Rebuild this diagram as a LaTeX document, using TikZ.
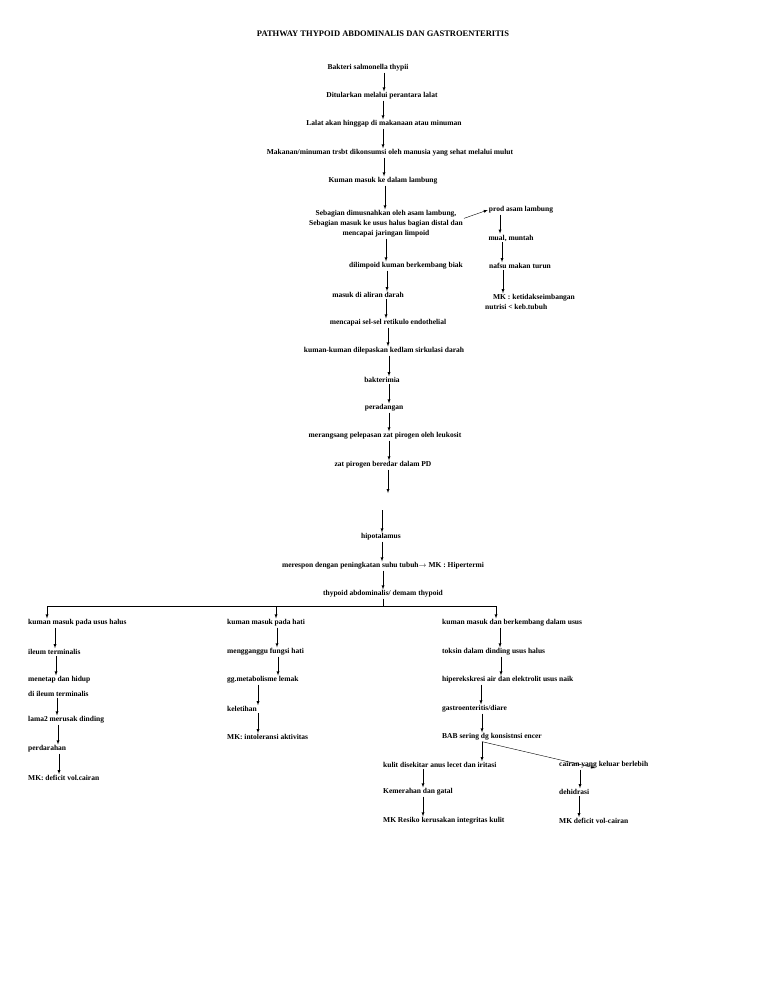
\documentclass[tikz,border=0pt]{standalone}
\usepackage{fontspec}
\setmainfont{Liberation Serif}
\begin{document}
\begin{tikzpicture}[x=1pt,y=-1pt,
  t/.style={font=\bfseries\fontsize{7.5}{8}\selectfont,inner sep=1pt},
  l/.style={t,anchor=west},
  arr/.style={-latex,thin}]
\useasboundingbox (0,0) rectangle (768,1006);
\fill[white] (0,0) rectangle (768,1006);
\node[t,font=\bfseries\fontsize{8.5}{9}\selectfont] (title) at (383,34) {PATHWAY THYPOID ABDOMINALIS DAN GASTROENTERITIS};
\node[t] (n1) at (368,68) {Bakteri salmonella thypii};
\node[t] (n2) at (382,96) {Ditularkan melalui perantara lalat};
\node[t] (n3) at (384,124) {Lalat akan hinggap di makanaan atau minuman};
\node[t] (n4) at (390,153) {Makanan/minuman trsbt dikonsumsi oleh manusia yang sehat melalui mulut};
\node[t] (n5) at (383,181) {Kuman masuk ke dalam lambung};
\node[t,align=center] (n6) at (386,224) {Sebagian dimusnahkan oleh asam lambung,\\[2pt]Sebagian masuk ke usus halus bagian distal dan\\[2pt]mencapai jaringan limpoid};
\node[t] (r1) at (521,210) {prod asam lambung};
\node[t] (r2) at (511,238) {mual, muntah};
\node[t] (r3) at (520,266) {nafsu makan turun};
\node[t,align=left] (r4) at (530,302) {\hspace*{8pt}MK : ketidakseimbangan\\[2pt]nutrisi < keb.tubuh};
\node[t] (n7) at (406,266) {dilimpoid kuman berkembang biak};
\node[t] (n8) at (368,295) {masuk di aliran darah};
\node[t] (n9) at (388,323) {mencapai sel-sel retikulo endothelial};
\node[t] (n10) at (384,351) {kuman-kuman dilepaskan kedlam sirkulasi darah};
\node[t] (n11) at (382,380) {bakterimia};
\node[t] (n12) at (384,408) {peradangan};
\node[t] (n13) at (385,436) {merangsang pelepasan zat pirogen oleh leukosit};
\node[t] (n14) at (383,465) {zat pirogen beredar dalam PD};
\node[t] (n15) at (381,537) {hipotalamus};
\node[t] (n16) at (383,566) {merespon dengan peningkatan suhu tubuh$\rightarrow$ MK : Hipertermi};
\node[t] (n17) at (383,594) {thypoid abdominalis/ demam thypoid};
% left
\node[l] (a1) at (27,623) {kuman masuk pada usus halus};
\node[l] (a2) at (27,652) {ileum terminalis};
\node[l] (a3) at (27,680) {menetap dan hidup};
\node[l] (a3b) at (27,694) {di ileum terminalis};
\node[l] (a4) at (27,720) {lama2 merusak dinding};
\node[l] (a5) at (27,749) {perdarahan};
\node[l] (a6) at (27,778) {MK: deficit vol.cairan};
% middle
\node[l] (b1) at (226,623) {kuman masuk pada hati};
\node[l] (b2) at (226,652) {mengganggu fungsi hati};
\node[l] (b3) at (226,680) {gg.metabolisme lemak};
\node[l] (b4) at (226,709) {keletihan};
\node[l] (b5) at (226,737) {MK: intoleransi aktivitas};
% right
\node[l] (c1) at (441,623) {kuman masuk dan berkembang dalam usus};
\node[l] (c2) at (441,652) {toksin dalam dinding usus halus};
\node[l] (c3) at (441,680) {hiperekskresi air dan elektrolit usus naik};
\node[l] (c4) at (441,709) {gastroenteritis/diare};
\node[l] (c5) at (441,737) {BAB sering dg konsistnsi encer};
\node[l] (d1) at (382,765) {kulit disekitar anus lecet dan iritasi};
\node[l] (d2) at (382,792) {Kemerahan dan gatal};
\node[l] (d3) at (382,821) {MK Resiko kerusakan integritas kulit};
\node[l] (e1) at (558,765) {cairan yang keluar berlebih};
\node[l] (e2) at (558,792) {dehidrasi};
\node[l] (e3) at (558,821) {MK deficit vol-cairan};
% arrows main column
\foreach \a/\b/\x in {n1/n2/384,n2/n3/383,n3/n4/383,n4/n5/384,n5/n6/385,n6/n7/386,n7/n8/387,n8/n9/386,n9/n10/388,n10/n11/389,n11/n12/389,n12/n13/389,n13/n14/389}
  \draw[arr] (\x,0 |- \a.south) -- (\x,0 |- \b.north);
\coordinate (g1) at (388,474); \coordinate (g2) at (388,493);
\coordinate (g3) at (382,510); \coordinate (g4) at (382,530);
\draw[arr] (n14.south -| g1) -- (g2);
\draw[arr] (g3) -- (n15.north -| g3);
\draw[arr] (382,0 |- n15.south) -- (382,0 |- n16.north);
\draw[arr] (383,0 |- n16.south) -- (383,0 |- n17.north);
% right branch
\draw[arr] (n6.north east) ++(0,9) coordinate (p1) -- (r1.west);
\foreach \a/\b/\x in {r1/r2/500,r2/r3/502,r3/r4/503}
  \draw[arr] (\x,0 |- \a.south) -- (\x,0 |- \b.north);
% split
\coordinate (s0) at (383,603);
\draw (n17.south) -- (383,606);
\draw[arr] (496,606) -- (47,606) -- (47,0 |- a1.north);
\draw[arr] (276,606) -- (276,0 |- b1.north);
\draw[arr] (496,606) -- (496,0 |- c1.north);
\foreach \a/\b/\x in {a1/a2/55,a2/a3/56,a3b/a4/57,a4/a5/58,a5/a6/59}
  \draw[arr] (\x,0 |- \a.south) -- (\x,0 |- \b.north);
\foreach \a/\b/\x in {b1/b2/277,b2/b3/278,b3/b4/258,b4/b5/258}
  \draw[arr] (\x,0 |- \a.south) -- (\x,0 |- \b.north);
\foreach \a/\b/\x in {c1/c2/500,c2/c3/501,c3/c4/481,c4/c5/482}
  \draw[arr] (\x,0 |- \a.south) -- (\x,0 |- \b.north);
\draw[arr] (482,0 |- c5.south) -- (482,0 |- d1.north);
\draw[arr] (482,0 |- c5.south) -- (595,768);
\foreach \a/\b/\x in {d1/d2/423,d2/d3/423,e1/e2/580,e2/e3/579}
  \draw[arr] (\x,0 |- \a.south) -- (\x,0 |- \b.north);
\end{tikzpicture}
\end{document}
